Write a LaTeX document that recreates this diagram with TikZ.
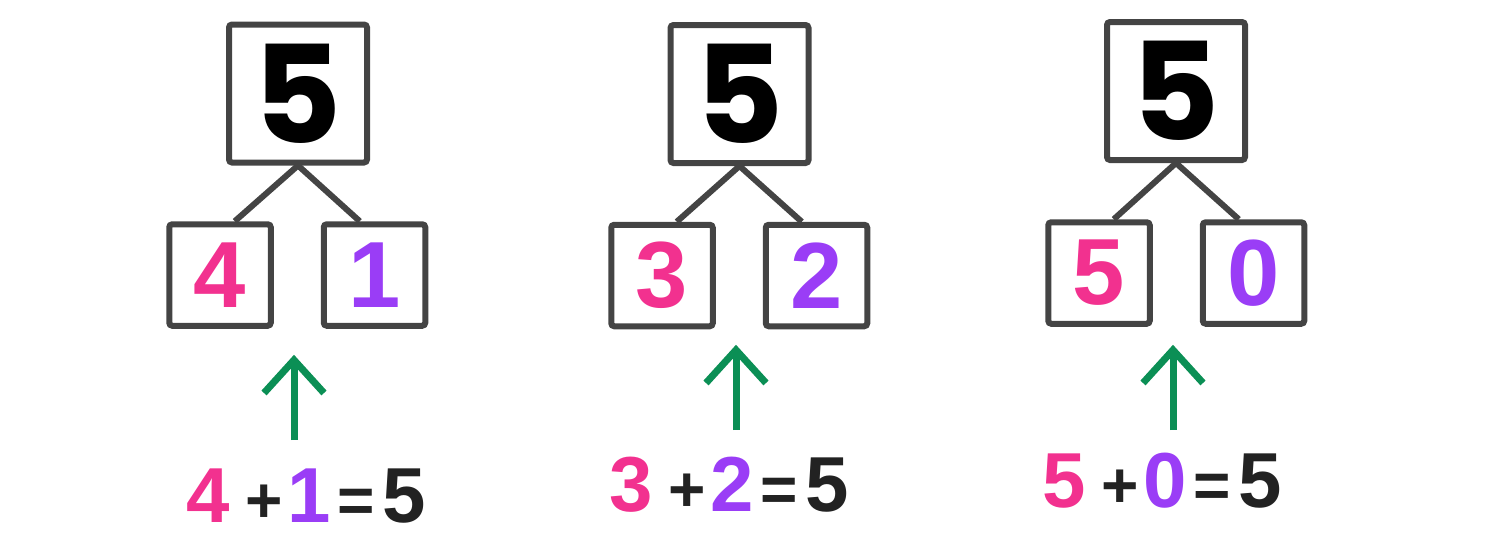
\documentclass[tikz,border=0pt]{standalone}
\usepackage{fontspec}
\setmainfont{Liberation Sans}
\newfontfamily\bigfont{Poppins}
\usetikzlibrary{calc}
\definecolor{bondpink}{HTML}{F2318F}
\definecolor{bondpurple}{HTML}{9A3DF6}
\definecolor{bondgreen}{HTML}{0B8F55}
\definecolor{bondgray}{HTML}{444444}
\definecolor{bondblack}{HTML}{222222}

\begin{document}
\begin{tikzpicture}[x=1pt,y=-1pt,
    wholebox/.style={draw=bondgray,line width=6pt,rounded corners=3pt,minimum size=138pt,inner sep=0pt,font=\bigfont\bfseries\fontsize{136}{136}\selectfont},
    partbox/.style={draw=bondgray,line width=6pt,rounded corners=3pt,minimum size=101.5pt,inner sep=0pt,font=\bfseries\fontsize{94}{94}\selectfont},
    bond/.style={draw=bondgray,line width=6pt,line join=round},
    upline/.style={draw=bondgreen,line width=7pt},
    eqnum/.style={anchor=base,inner sep=0pt,font=\bfseries\fontsize{78}{78}\selectfont},
    eqsign/.style={anchor=base,inner sep=0pt,text=bondblack,font=\bfseries\fontsize{64}{64}\selectfont}]

  \useasboundingbox (0,0) rectangle (1500,539);

  %% Draw the three bonds: the whole on top, the two parts below
  \foreach \p/\cx/\ty/\sy/\lx/\rx/\a/\b in {1/298/93.5/275/220/374.5/4/1, 2/739.5/94/275.5/662/816.5/3/2, 3/1176/91/273/1099/1253.5/5/0}{
    \node[wholebox] (whole\p) at (\cx,\ty) {5};
    \node[partbox,text=bondpink] (partA\p) at (\lx,\sy) {\a};
    \node[partbox,text=bondpurple] (partB\p) at (\rx,\sy) {\b};
    %% Lines from the whole down to each part
    \draw[bond] ([xshift=-39pt]partA\p.north east) -- (whole\p.south) -- ([xshift=39pt]partB\p.north west);
  }

  %% Green arrows under the parts
  \foreach \p/\x/\t/\e in {1/294/355/440, 2/736/345/430, 3/1173/345/430}{
    \coordinate (tip\p) at (\x,\t+5);
    \coordinate (foot\p) at (\x,\e);
    \draw[upline] (foot\p) -- (tip\p);
    \draw[upline,line join=miter] ($(tip\p)+(-30,33)$) -- (tip\p) -- ($(tip\p)+(30,33)$);
  }

  %% The sums below each arrow
  \foreach \p/\x/\y/\a/\b in {1/208.5/522/4/1, 2/631.5/511/3/2, 3/1064/507/5/0}{
    \node[eqnum,text=bondpink] (sumA\p) at (\x,\y) {\a};
    \node[eqsign] (plus\p) at (\x+56,\y) {+};
    \node[eqnum,text=bondpurple] (sumB\p) at (\x+101,\y) {\b};
    \node[eqsign] (equal\p) at (\x+148,\y) {=};
    \node[eqnum,text=bondblack] (total\p) at (\x+196,\y) {5};
  }

\end{tikzpicture}
\end{document}
